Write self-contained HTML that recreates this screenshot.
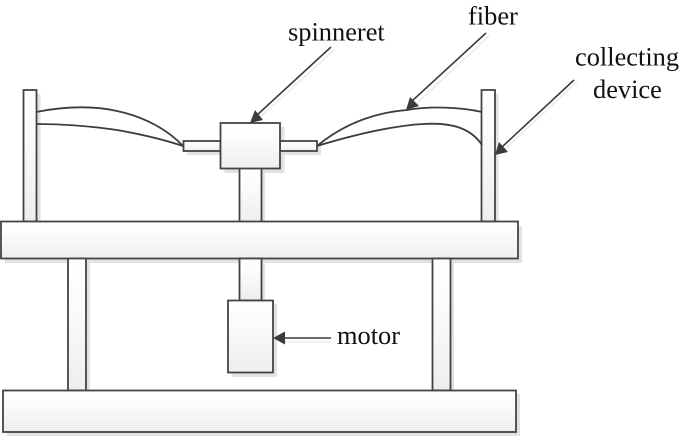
<!DOCTYPE html>
<html><head><meta charset="utf-8"><style>
html,body{margin:0;padding:0;background:#fff;width:685px;height:438px;overflow:hidden}
svg{display:block;filter:blur(0.35px)}
text{font-family:"Liberation Serif",serif;font-size:26.4px;fill:#111}
.b{fill:url(#g);stroke:#444;stroke-width:1.8}
.s{fill:#e2e2e2}
.f{fill:none;stroke:#3c3c3c;stroke-width:1.8}
.l{stroke:#3c3c3c;stroke-width:1.6;fill:none}
.ls{stroke:#ececec;stroke-width:1.6;fill:none}
.a{fill:#3c3c3c}
</style></head><body>
<svg width="685" height="438" viewBox="0 0 685 438" xmlns="http://www.w3.org/2000/svg">
<defs><linearGradient id="g" x1="0" y1="0" x2="0" y2="1"><stop offset="0" stop-color="#fff"/><stop offset="0.35" stop-color="#fbfbfb"/><stop offset="1" stop-color="#eeeeee"/></linearGradient></defs>
<!-- shadows -->
<rect class="s" x="27.5" y="94" width="13" height="131"/>
<rect class="s" x="485.500" y="94" width="13" height="131"/>
<rect class="s" x="243" y="172" width="22" height="53"/>
<rect class="s" x="187" y="145" width="37" height="10"/>
<rect class="s" x="284" y="145" width="37" height="10"/>
<rect class="s" x="224.500" y="127" width="60" height="46"/>
<rect class="s" x="5" y="226" width="517" height="37"/>
<rect class="s" x="72" y="262" width="18" height="132"/>
<rect class="s" x="436" y="262" width="18" height="132"/>
<rect class="s" x="243" y="262" width="22" height="42"/>
<rect class="s" x="232" y="304" width="45" height="73"/>
<rect class="s" x="7" y="394" width="513" height="42"/>
<!-- bodies -->
<rect class="b" x="23.500" y="90" width="13" height="131.500"/>
<rect class="b" x="481.500" y="90" width="13.500" height="131.500"/>
<rect class="b" x="239.500" y="168" width="22" height="54"/>
<rect class="b" x="183.500" y="141" width="37" height="10"/>
<rect class="b" x="280" y="141" width="37" height="10"/>
<rect class="b" x="220.500" y="123" width="59.500" height="45.500"/>
<rect class="b" x="1" y="221.500" width="517" height="37"/>
<rect class="b" x="68" y="258.500" width="18" height="132"/>
<rect class="b" x="432.500" y="258.500" width="18" height="132"/>
<rect class="b" x="239.500" y="258.500" width="22" height="42"/>
<rect class="b" x="228" y="300.500" width="45" height="72"/>
<rect class="b" x="3" y="390.500" width="513" height="41.500"/>
<!-- fibers -->
<path class="f" d="M36 112 C62 107 90 105 117 111 C145 117 168 130 183 146"/>
<path class="f" d="M36 124 C60 124 90 126 117 130 C140 134 165 140 183 146"/>
<path class="f" d="M317 146 C340 127 370 113 407 110 C430 106 460 107 482 112"/>
<path class="f" d="M317 146 C350 136 390 126 423 124 C455 122 472 130 482 145"/>
<!-- leader shadows -->
<path class="ls" d="M334 50 L257 120"/>
<path class="ls" d="M489 36 L416 104"/>
<path class="ls" d="M577 82 L504 150"/>
<path class="ls" d="M331 342 L280 342"/>
<!-- leaders -->
<path class="l" d="M331 47 L256 116"/>
<path class="l" d="M486 33 L412 101"/>
<path class="l" d="M574 80 L502 147"/>
<path class="l" d="M331 338 L282 338"/>
<!-- arrowheads -->
<polygon class="a" points="250,123 255,110 263,120"/>
<polygon class="a" points="406,110 410,97 419,106"/>
<polygon class="a" points="495,155 499,142 508,152"/>
<polygon class="a" points="273,338 285,331.500 285,344.500"/>
<!-- labels -->
<text x="288" y="40.500">spinneret</text>
<text x="468" y="24.500">fiber</text>
<text x="575" y="65.500">collecting</text>
<text x="593" y="98">device</text>
<text x="337" y="344">motor</text>
</svg>
</body></html>
